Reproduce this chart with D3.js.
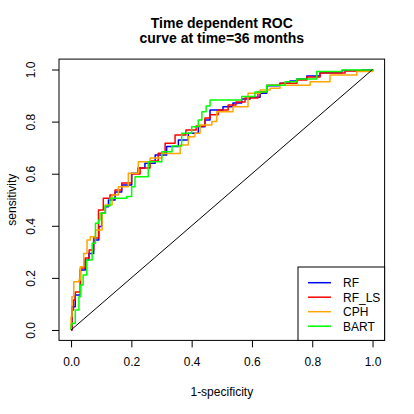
<!DOCTYPE html>
<html>
<head>
<meta charset="utf-8">
<script src="https://cdn.jsdelivr.net/npm/d3@7"></script>
<style>
  body { margin: 0; background: #fff; }
  svg { display: block; }
</style>
</head>
<body>
<div id="chart"><svg></svg></div>
<script>
// values (1-specificity, sensitivity)
const rfFpr = [0, 0.003, 0.014, 0.031, 0.047, 0.059, 0.075, 0.092, 0.102, 0.114, 0.124, 0.146, 0.168, 0.201, 0.222, 0.245, 0.279, 0.317, 0.356, 0.389, 0.422, 0.444, 0.461, 0.504, 0.537, 0.566, 0.594, 0.627, 0.649, 0.693, 0.726, 0.749, 0.782, 0.826, 0.898, 0.965, 1];
const rfTpr = [0, 0.089, 0.134, 0.230, 0.269, 0.294, 0.345, 0.397, 0.449, 0.473, 0.499, 0.530, 0.557, 0.602, 0.622, 0.640, 0.672, 0.704, 0.729, 0.755, 0.780, 0.806, 0.845, 0.857, 0.871, 0.887, 0.894, 0.909, 0.938, 0.947, 0.956, 0.964, 0.975, 0.988, 0.996, 0.998, 1];

const rflsFpr = [0, 0.003, 0.008, 0.014, 0.031, 0.047, 0.060, 0.075, 0.091, 0.107, 0.129, 0.146, 0.168, 0.201, 0.229, 0.262, 0.289, 0.312, 0.345, 0.381, 0.415, 0.444, 0.461, 0.488, 0.521, 0.547, 0.577, 0.620, 0.649, 0.693, 0.749, 0.782, 0.826, 0.909, 1];
const rflsTpr = [0, 0.077, 0.115, 0.146, 0.238, 0.276, 0.307, 0.353, 0.461, 0.506, 0.518, 0.537, 0.564, 0.599, 0.622, 0.649, 0.679, 0.717, 0.749, 0.768, 0.783, 0.814, 0.826, 0.845, 0.864, 0.875, 0.891, 0.914, 0.940, 0.947, 0.960, 0.971, 0.987, 0.994, 1];

const cphFpr = [0, 0, 0.003, 0.009, 0.026, 0.031, 0.042, 0.053, 0.064, 0.081, 0.103, 0.113, 0.136, 0.157, 0.190, 0.223, 0.262, 0.301, 0.334, 0.362, 0.389, 0.411, 0.428, 0.467, 0.483, 0.537, 0.587, 0.627, 0.660, 0.693, 0.760, 0.793, 0.859, 0.948, 1];
const cphTpr = [0, 0.051, 0.128, 0.185, 0.192, 0.243, 0.294, 0.345, 0.358, 0.384, 0.448, 0.480, 0.518, 0.550, 0.602, 0.646, 0.660, 0.678, 0.678, 0.710, 0.742, 0.755, 0.787, 0.800, 0.838, 0.857, 0.909, 0.921, 0.928, 0.940, 0.940, 0.953, 0.979, 0.992, 1];

const bartFpr = [0, 0, 0.003, 0.014, 0.026, 0.031, 0.040, 0.052, 0.070, 0.081, 0.092, 0.096, 0.113, 0.129, 0.157, 0.185, 0.201, 0.212, 0.256, 0.301, 0.335, 0.367, 0.400, 0.422, 0.434, 0.448, 0.461, 0.544, 0.566, 0.610, 0.649, 0.710, 0.749, 0.815, 0.898, 1];
const bartTpr = [0, 0.019, 0.026, 0.077, 0.128, 0.173, 0.211, 0.269, 0.333, 0.410, 0.422, 0.448, 0.476, 0.506, 0.506, 0.512, 0.550, 0.588, 0.646, 0.684, 0.706, 0.755, 0.780, 0.806, 0.838, 0.860, 0.883, 0.883, 0.896, 0.914, 0.940, 0.953, 0.964, 0.992, 0.998, 1];

const seriesNames = ["RF", "RF_LS", "CPH", "BART"];
const tickValues = [0, 0.2, 0.4, 0.6, 0.8, 1.0];

const colors = ["#0000ff", "#ff0000", "#ffa500", "#00ff00"];

const width = 414;
const height = 414;
const fontFamily = "'Liberation Sans', Arial, Helvetica, sans-serif";

const svg = d3.select("#chart svg")
  .attr("width", width)
  .attr("height", height)
  .style("font-family", fontFamily);

// plot region, R style with 4% padding on both axes
const x = d3.scaleLinear().domain([-0.04, 1.04]).range([59, 384.6]);
const y = d3.scaleLinear().domain([-0.04, 1.04]).range([340.4, 59.1]);

const series = [
  { name: seriesNames[0], fpr: rfFpr, tpr: rfTpr },
  { name: seriesNames[1], fpr: rflsFpr, tpr: rflsTpr },
  { name: seriesNames[2], fpr: cphFpr, tpr: cphTpr },
  { name: seriesNames[3], fpr: bartFpr, tpr: bartTpr }
];

// title
const title = svg.append("text")
  .attr("text-anchor", "middle")
  .style("font-size", "14px")
  .style("font-weight", "bold");
title.append("tspan").attr("x", 221.8).attr("y", 27.5).text("Time dependent ROC");
title.append("tspan").attr("x", 221.8).attr("y", 43).text("curve at time=36 months");

// curves
const line = d3.line()
  .curve(d3.curveStepAfter)
  .x((d) => x(d[0]))
  .y((d) => y(d[1]));

series.forEach((s, i) => {
  svg.append("path")
    .datum(s.fpr.map((f, j) => [f, s.tpr[j]]))
    .attr("fill", "none")
    .attr("stroke", colors[i])
    .attr("stroke-width", 1.5)
    .attr("stroke-linejoin", "round")
    .attr("d", line);
});

// diagonal reference
svg.append("line")
  .attr("x1", x(0)).attr("y1", y(0))
  .attr("x2", x(1)).attr("y2", y(1))
  .attr("stroke", "#000")
  .attr("stroke-width", 1);

// box
svg.append("rect")
  .attr("x", x.range()[0])
  .attr("y", y.range()[1])
  .attr("width", x.range()[1] - x.range()[0])
  .attr("height", y.range()[0] - y.range()[1])
  .attr("fill", "none")
  .attr("stroke", "#000")
  .attr("stroke-width", 1);

// axes
const xAxis = svg.append("g")
  .attr("transform", "translate(0," + y.range()[0] + ")")
  .call(d3.axisBottom(x).tickValues(tickValues).tickFormat(d3.format(".1f"))
    .tickSize(7).tickSizeOuter(0).tickPadding(10));
xAxis.select(".domain").remove();
xAxis.selectAll("text").style("font-size", "12px").style("font-family", fontFamily).attr("fill", "#000");

const yAxis = svg.append("g")
  .attr("transform", "translate(" + x.range()[0] + ",0)")
  .call(d3.axisLeft(y).tickValues(tickValues).tickFormat(d3.format(".1f"))
    .tickSize(7).tickSizeOuter(0));
yAxis.select(".domain").remove();
yAxis.selectAll("text")
  .attr("x", null).attr("dy", null)
  .attr("text-anchor", "middle")
  .attr("transform", "translate(-24,0) rotate(-90)")
  .style("font-size", "12px")
  .style("font-family", fontFamily)
  .attr("fill", "#000");

// axis titles
svg.append("text")
  .attr("x", 221.8).attr("y", 396)
  .attr("text-anchor", "middle")
  .style("font-size", "12px")
  .text("1-specificity");

svg.append("text")
  .attr("transform", "translate(16,199.7) rotate(-90)")
  .attr("text-anchor", "middle")
  .style("font-size", "12px")
  .text("sensitivity");

// legend
const legend = svg.append("g");
legend.append("rect")
  .attr("x", 298).attr("y", 267)
  .attr("width", x.range()[1] - 298)
  .attr("height", y.range()[0] - 267)
  .attr("fill", "#fff")
  .attr("stroke", "#000");

series.forEach((s, i) => {
  const ly = 282.7 + i * 14.5;
  legend.append("line")
    .attr("x1", 308).attr("x2", 331)
    .attr("y1", ly).attr("y2", ly)
    .attr("stroke", colors[i])
    .attr("stroke-width", 1.5);
  legend.append("text")
    .attr("x", 343).attr("y", ly + 4.3)
    .style("font-size", "12px")
    .text(s.name);
});
</script>
</body>
</html>
